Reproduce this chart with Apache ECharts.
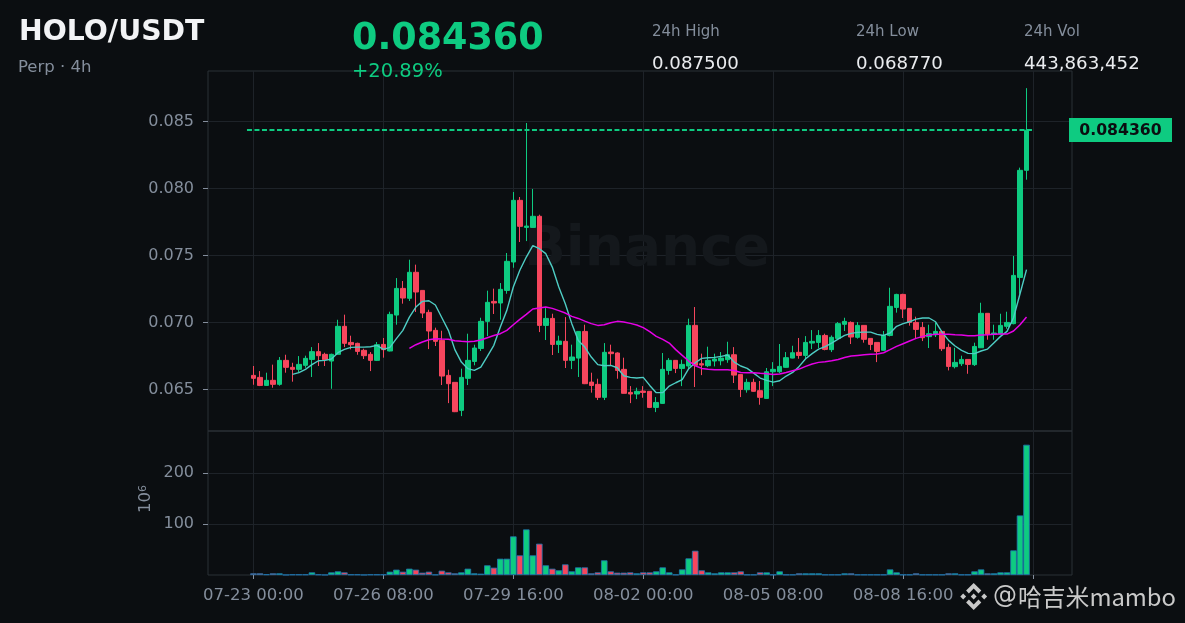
<!DOCTYPE html>
<html><head><meta charset="utf-8">
<script src="https://cdn.jsdelivr.net/npm/echarts@6/dist/echarts.min.js"></script>
<style>html,body{margin:0;padding:0;background:#0b0e11}#c{width:1185px;height:623px}</style>
</head><body><div id="c"></div>
<script>
const tickLabels = ['07-23 00:00','07-26 08:00','07-29 16:00','08-02 00:00','08-05 08:00','08-08 16:00',''];
const priceTicks = [0.065,0.070,0.075,0.080,0.085];
const volumeTicks = [100,200];
const lastPrice = 0.08436;
const opens = [
0.06607,0.06592,0.06532,0.06570,0.06540,0.06719,0.06667,0.06652,0.06682,0.06726,
0.06784,0.06764,0.06714,0.06764,0.06973,0.06853,0.06846,0.06794,0.06764,0.06719,
0.06838,0.06789,0.07057,0.07256,0.07182,0.07376,0.07241,0.07077,0.06943,0.06868,
0.06607,0.06555,0.06346,0.06585,0.06711,0.06808,0.07010,0.07159,0.07147,0.07241,
0.07453,0.07913,0.07711,0.07711,0.07794,0.06980,0.07032,0.06838,0.06861,0.06719,
0.06736,0.06935,0.06557,0.06540,0.06443,0.06781,0.06774,0.06652,0.06480,0.06468,
0.06490,0.06488,0.06368,0.06398,0.06644,0.06719,0.06659,0.06677,0.06980,0.06694,
0.06679,0.06714,0.06716,0.06724,0.06761,0.06614,0.06500,0.06555,0.06493,0.06435,
0.06634,0.06634,0.06667,0.06736,0.06779,0.06756,0.06848,0.06853,0.06905,0.06799,
0.06883,0.06988,0.07002,0.06891,0.06980,0.06883,0.06853,0.06794,0.06905,0.07114,
0.07211,0.07107,0.07002,0.06965,0.06896,0.06910,0.06935,0.06816,0.06672,0.06694,
0.06726,0.06687,0.06813,0.07070,0.06913,0.06918,0.06973,0.06993,0.07338,0.08137];
const closes = [
0.06585,0.06532,0.06570,0.06540,0.06719,0.06667,0.06652,0.06689,0.06734,0.06784,
0.06754,0.06724,0.06764,0.06973,0.06846,0.06836,0.06786,0.06754,0.06719,0.06836,
0.06799,0.07062,0.07256,0.07184,0.07376,0.07229,0.07072,0.06938,0.06861,0.06602,
0.06545,0.06336,0.06592,0.06719,0.06811,0.07010,0.07152,0.07147,0.07249,0.07458,
0.07913,0.07719,0.07721,0.07794,0.06980,0.07032,0.06838,0.06863,0.06719,0.06744,
0.06935,0.06545,0.06532,0.06443,0.06779,0.06769,0.06644,0.06473,0.06468,0.06488,
0.06480,0.06368,0.06405,0.06652,0.06719,0.06659,0.06689,0.06980,0.06682,0.06684,
0.06719,0.06729,0.06736,0.06761,0.06609,0.06502,0.06555,0.06488,0.06443,0.06634,
0.06652,0.06674,0.06739,0.06776,0.06756,0.06853,0.06861,0.06905,0.06801,0.06891,
0.06993,0.07010,0.06893,0.06980,0.06876,0.06838,0.06786,0.06905,0.07122,0.07211,
0.07102,0.07002,0.06950,0.06888,0.06918,0.06935,0.06806,0.06674,0.06704,0.06726,
0.06689,0.06823,0.07070,0.06913,0.06923,0.06980,0.07002,0.07353,0.08137,0.08436];
const lows = [
0.06537,0.06527,0.06530,0.06515,0.06530,0.06627,0.06560,0.06627,0.06664,0.06595,
0.06677,0.06677,0.06507,0.06764,0.06818,0.06801,0.06761,0.06729,0.06639,0.06714,
0.06739,0.06786,0.06985,0.07142,0.07162,0.07080,0.07035,0.06803,0.06826,0.06535,
0.06400,0.06333,0.06303,0.06535,0.06682,0.06789,0.06900,0.07065,0.07022,0.07216,
0.07410,0.07602,0.07609,0.07709,0.06930,0.06871,0.06759,0.06774,0.06662,0.06654,
0.06595,0.06542,0.06478,0.06423,0.06423,0.06682,0.06582,0.06473,0.06400,0.06430,
0.06440,0.06363,0.06333,0.06396,0.06612,0.06624,0.06527,0.06657,0.06520,0.06609,
0.06669,0.06674,0.06682,0.06701,0.06550,0.06445,0.06478,0.06485,0.06388,0.06435,
0.06527,0.06624,0.06664,0.06734,0.06731,0.06731,0.06803,0.06811,0.06794,0.06781,
0.06878,0.06938,0.06841,0.06881,0.06851,0.06796,0.06706,0.06791,0.06898,0.07075,
0.07035,0.06978,0.06881,0.06863,0.06811,0.06893,0.06789,0.06644,0.06659,0.06677,
0.06619,0.06677,0.06811,0.06873,0.06873,0.06913,0.06955,0.06988,0.07216,0.08067];
const highs = [
0.06677,0.06639,0.06627,0.06687,0.06744,0.06761,0.06701,0.06751,0.06754,0.06818,
0.06848,0.06776,0.06769,0.07022,0.07060,0.06903,0.06851,0.06806,0.06781,0.06856,
0.06886,0.07082,0.07333,0.07311,0.07470,0.07433,0.07241,0.07097,0.06963,0.06940,
0.06649,0.06555,0.06657,0.06918,0.06836,0.07037,0.07239,0.07254,0.07296,0.07520,
0.07975,0.07938,0.08490,0.07998,0.07806,0.07109,0.07067,0.06903,0.07042,0.06836,
0.06935,0.06985,0.06627,0.06582,0.06848,0.06836,0.06779,0.06739,0.06527,0.06515,
0.06527,0.06488,0.06445,0.06774,0.06736,0.06719,0.06724,0.07030,0.07117,0.06769,
0.06821,0.06769,0.06781,0.06858,0.06818,0.06614,0.06582,0.06582,0.06565,0.06662,
0.06706,0.06841,0.06781,0.06828,0.06886,0.06900,0.06945,0.06945,0.06918,0.06905,
0.07005,0.07037,0.07010,0.07005,0.06980,0.06883,0.06853,0.06938,0.07261,0.07216,
0.07216,0.07107,0.07045,0.07005,0.06985,0.07000,0.06935,0.06843,0.06813,0.06754,
0.06726,0.06851,0.07149,0.07070,0.06985,0.07067,0.07082,0.07498,0.08157,0.08750];
const ma7 = [
0.06614,0.06627,0.06652,0.06687,0.06716,0.06719,0.06729,0.06776,0.06801,0.06816,
0.06818,0.06818,0.06821,0.06831,0.06801,0.06816,0.06881,0.06943,0.07042,0.07117,
0.07159,0.07164,0.07132,0.07037,0.06943,0.06799,0.06706,0.06657,0.06644,0.06669,
0.06749,0.06831,0.06968,0.07092,0.07266,0.07391,0.07490,0.07575,0.07552,0.07515,
0.07415,0.07266,0.07142,0.06993,0.06868,0.06818,0.06744,0.06687,0.06679,0.06682,
0.06664,0.06604,0.06592,0.06587,0.06592,0.06532,0.06478,0.06478,0.06527,0.06552,
0.06575,0.06657,0.06701,0.06734,0.06739,0.06741,0.06749,0.06759,0.06706,0.06677,
0.06659,0.06624,0.06587,0.06570,0.06557,0.06567,0.06602,0.06629,0.06674,0.06731,
0.06769,0.06803,0.06821,0.06848,0.06878,0.06905,0.06920,0.06928,0.06930,0.06930,
0.06913,0.06905,0.06923,0.06973,0.06993,0.07007,0.07027,0.07035,0.07035,0.07007,
0.06930,0.06868,0.06826,0.06794,0.06771,0.06769,0.06789,0.06803,0.06851,0.06898,
0.06935,0.07037,0.07216,0.07396];
const ma25 = [
0.06808,0.06836,0.06856,0.06873,0.06881,0.06878,0.06876,0.06866,0.06861,0.06858,
0.06861,0.06871,0.06888,0.06905,0.06918,0.06943,0.06985,0.07025,0.07062,0.07102,
0.07109,0.07117,0.07107,0.07090,0.07072,0.07047,0.07032,0.07012,0.06993,0.06980,
0.06985,0.07000,0.07010,0.07005,0.06995,0.06983,0.06963,0.06933,0.06898,0.06876,
0.06848,0.06799,0.06756,0.06714,0.06679,0.06659,0.06652,0.06649,0.06649,0.06649,
0.06644,0.06629,0.06627,0.06627,0.06622,0.06619,0.06614,0.06617,0.06629,0.06642,
0.06654,0.06674,0.06692,0.06704,0.06709,0.06716,0.06726,0.06741,0.06751,0.06756,
0.06761,0.06764,0.06766,0.06776,0.06799,0.06823,0.06843,0.06863,0.06883,0.06898,
0.06908,0.06913,0.06913,0.06913,0.06910,0.06908,0.06903,0.06903,0.06908,0.06910,
0.06913,0.06915,0.06915,0.06938,0.06985,0.07042];
const volumes = [
3.3,3.3,1.3,3.3,3.3,0.3,1,1,1,5.2,
1,0.3,5.2,7.2,5.2,1,1,0.3,1,1,
1,6.5,10.5,6.5,12.4,10.5,4.6,6.5,0.7,8.5,
5.2,3.3,5.2,12.4,3.3,2.6,19,14.4,32,32,
75.9,38.6,89.6,38.6,61.5,19,12.4,9.2,20.9,7.2,
15,15,3.3,5.2,28.8,7.2,4.6,4.6,5.2,3.3,
5.2,5.2,7.2,15,5.2,0.7,11,32.7,47.7,9.2,
5.2,3.3,5.2,5.2,5.2,7.2,0.7,0.7,5.2,5.2,
0.7,7.2,0.7,0.7,3.3,3.3,3.3,3.3,0.7,0.7,
0.7,3.3,3.3,0.7,0.7,0.7,0.7,0.7,11,5.2,
0.7,0.7,3.3,0.7,0.7,0.7,0.7,3.3,3.3,0.7,
0.7,7.2,11,3.3,3.3,5.2,5.2,48.4,117,256];

const UP='#0ecb81', DOWN='#f6465d', BG='#0b0e11', GRID='#1e2329', SPINE='#2b3036', MUTED='#848e9c';
const LEAD=7, TRAIL=7;
const pad=(a,skip=0)=>[...Array(LEAD+skip).fill(null),...a,...Array(TRAIL).fill(null)];
const N=LEAD+opens.length+TRAIL;
const isTick=i=>i>=LEAD&&(i-LEAD)%20===0;
const categories=Array.from({length:N},(_,i)=>isTick(i)?(tickLabels[(i-LEAD)/20]||''):' ');
const candle=opens.map((o,i)=>[o,closes[i],lows[i],highs[i]]);
const candleData=[...Array(LEAD).fill('-'),...candle,...Array(TRAIL).fill('-')];
const volData=pad(volumes.map((v,i)=>({value:v,itemStyle:{color:closes[i]>=opens[i]?UP:DOWN}})));
const L=208,R=1072;
const chart=echarts.init(document.getElementById('c'),null,{renderer:'canvas'});

function t(text,x,y,size,fill,weight,extra){return {type:'text',z:1,silent:true,style:Object.assign({text,x,y,fill,textAlign:'left',textVerticalAlign:'middle',font:(weight||'normal')+' '+size+'px "DejaVu Sans"'},extra||{})};}
const cx=973.7,cy=596.5,poly=p=>({type:'polygon',z:20,silent:true,shape:{points:p.map(q=>[cx+q[0],cy+q[1]])},style:{fill:'#c9c9c9'}});
const d=(x,y,r)=>[[x,y-r],[x+r,y],[x,y+r],[x-r,y]];
const logo=[
 poly([[0,-13.5],[7.6,-5.9],[4.8,-3.1],[0,-7.9],[-4.8,-3.1],[-7.6,-5.9]]),
 poly([[0,13.5],[7.6,5.9],[4.8,3.1],[0,7.9],[-4.8,3.1],[-7.6,5.9]]),
 poly(d(-10.5,0,2.9)),poly(d(10.5,0,2.9)),poly(d(0,0,2.9))
];

chart.setOption({
 animation:false,backgroundColor:BG,
 grid:[{left:L,right:1185-R,top:71,height:360,show:true,borderColor:SPINE,borderWidth:1,backgroundColor:'transparent'},
       {left:L,right:1185-R,top:431,height:144,show:true,borderColor:SPINE,borderWidth:1,backgroundColor:'transparent'}],
 xAxis:[
  {type:'category',gridIndex:0,data:categories,boundaryGap:false,
   axisLine:{show:false},axisTick:{show:false},axisLabel:{show:false},
   splitLine:{show:true,interval:(i)=>isTick(i),lineStyle:{color:GRID,width:1}}},
  {type:'category',gridIndex:1,data:categories,boundaryGap:false,
   axisLine:{show:false},
   axisTick:{show:true,interval:(i)=>isTick(i),length:4,lineStyle:{color:MUTED}},
   axisLabel:{show:true,interval:(i)=>isTick(i),color:MUTED,fontSize:16.5,fontFamily:'DejaVu Sans',margin:12},
   splitLine:{show:true,interval:(i)=>isTick(i),lineStyle:{color:GRID,width:1}}}
 ],
 yAxis:[
  {type:'value',gridIndex:0,min:0.06192,max:0.08878,
   axisLine:{show:false},
   axisTick:{show:true,length:5,lineStyle:{color:MUTED},customValues:priceTicks},
   axisLabel:{color:MUTED,fontSize:16,fontFamily:'DejaVu Sans',margin:14,padding:[2,0,0,0],customValues:priceTicks,formatter:v=>v.toFixed(3)},
   splitLine:{show:true,lineStyle:{color:GRID,width:1}}},
  {type:'value',gridIndex:1,min:0,max:283,
   axisLine:{show:false},
   axisTick:{show:true,length:5,lineStyle:{color:MUTED},customValues:volumeTicks},
   axisLabel:{color:MUTED,fontSize:16,fontFamily:'DejaVu Sans',margin:14,padding:[2,0,0,0],customValues:volumeTicks,formatter:v=>String(v)},
   splitLine:{show:true,lineStyle:{color:GRID,width:1}}}
 ],
 series:[
  {type:'candlestick',name:'Price',xAxisIndex:0,yAxisIndex:0,data:candleData,barWidth:5,z:3,
   itemStyle:{color:UP,color0:DOWN,borderColor:UP,borderColor0:DOWN,borderWidth:1},
   markLine:{silent:true,symbol:'none',animation:false,label:{show:false},z:4,
     lineStyle:{color:UP,type:[5,2.5],width:1.8,opacity:1},
     data:[[{coord:[LEAD-1,lastPrice]},{coord:[LEAD+120,lastPrice]}]]}},
  {type:'line',name:'MA7',xAxisIndex:0,yAxisIndex:0,data:pad(ma7,6),showSymbol:false,symbol:'none',z:5,
   lineStyle:{color:'#4ecdc4',width:1.4},connectNulls:false},
  {type:'line',name:'MA25',xAxisIndex:0,yAxisIndex:0,data:pad(ma25,24),showSymbol:false,symbol:'none',z:5,
   lineStyle:{color:'#e600e6',width:1.5},connectNulls:false},
  {type:'bar',name:'Volume',xAxisIndex:1,yAxisIndex:1,data:volData,barWidth:6.5,z:3,
   itemStyle:{borderColor:'#1f77b4',borderWidth:0.8}}
 ],
 graphic:[
  t('Binance',647,251,55,'#14181c','bold',{textAlign:'center'}),
  t('HOLO/USDT',19,33,28.3,'#f2f3f5','bold'),
  t('Perp · 4h',18,68,16.5,MUTED),
  t('0.084360',352,40,36.5,UP,'bold'),
  t('+20.89%',352,72,19.5,UP),
  t('24h High',652,32,15,MUTED),
  t('0.087500',652,64,18.2,'#eaecef'),
  t('24h Low',856,32,15,MUTED),
  t('0.068770',856,64,18.2,'#eaecef'),
  t('24h Vol',1024,32,15,MUTED),
  t('443,863,452',1024,64,18.2,'#eaecef'),
  {type:'rect',z:6,silent:true,shape:{x:1069,y:118,width:103,height:24},style:{fill:UP}},
  Object.assign(t('0.084360',1120.5,131,15.7,BG,'bold',{textAlign:'center'}),{z:7}),
  {type:'text',z:6,silent:true,rotation:Math.PI/2,x:146,y:499,style:{rich:{a:{fontSize:16.5,fill:MUTED,fontFamily:'DejaVu Sans'},s:{fontSize:11,fill:MUTED,fontFamily:'DejaVu Sans',verticalAlign:'top',padding:[0,0,6,0]}},text:'{a|10}{s|6}',textAlign:'center',textVerticalAlign:'middle'}},
  ...logo,
  {type:'text',z:20,silent:true,style:{text:'@',x:993,y:597,fill:'#c9c9c9',textAlign:'left',textVerticalAlign:'middle',font:'24px "DejaVu Sans"'}},
  {type:'text',z:20,silent:true,style:{text:'哈吉米mambo',x:1018,y:597,fill:'#c9c9c9',textAlign:'left',textVerticalAlign:'middle',font:'23.8px "Noto Sans CJK SC"'}}
 ]
});
</script></body></html>
